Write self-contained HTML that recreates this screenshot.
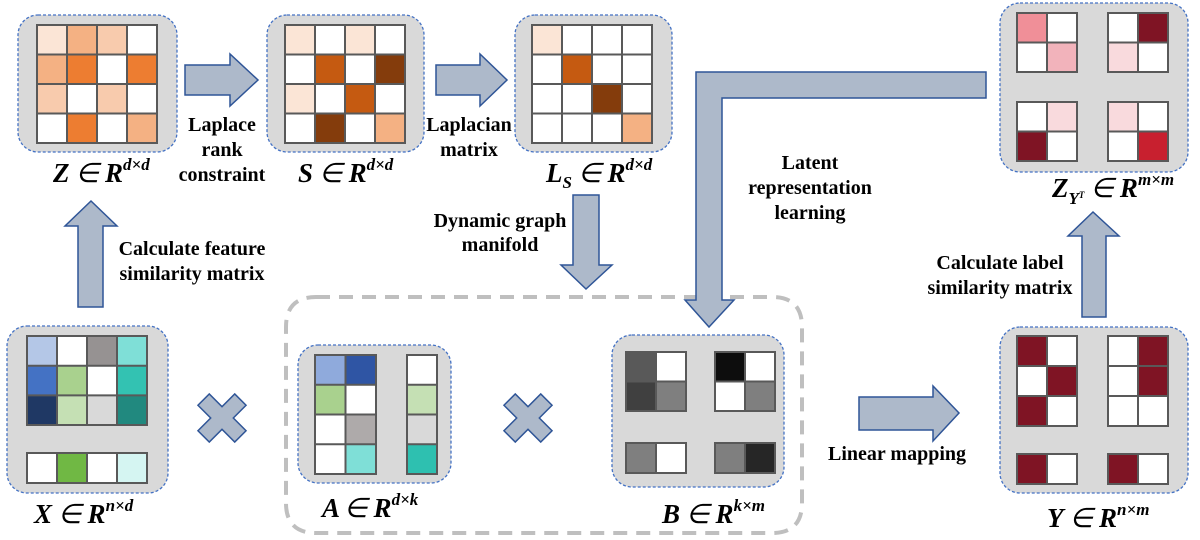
<!DOCTYPE html>
<html><head><meta charset="utf-8"><style>
html,body{margin:0;padding:0;background:#fff;}
svg{display:block;}
text{font-family:"Liberation Serif",serif;font-weight:bold;fill:#000;}
.m{font-style:italic;font-size:27px;}
.s{font-style:italic;font-size:17px;}
.t{font-size:20px;}
.box{fill:#d9d9d9;stroke:#4472c4;stroke-width:1.3;stroke-dasharray:3 2;}
.g{fill:none;stroke:#595959;stroke-width:2;}
.ar{fill:#adb9ca;stroke:#2f5597;stroke-width:1.5;stroke-linejoin:miter;}
</style></head><body>
<svg width="1200" height="540" viewBox="0 0 1200 540" xmlns="http://www.w3.org/2000/svg">
<defs>
<path id="g44" d="M0 0h120v118h-120z M30 0v118 M60 0v118 M90 0v118 M0 29.5h120 M0 59h120 M0 88.5h120"/>
<path id="g22" d="M0 0h60v59h-60z M30 0v59 M0 29.5h60"/>
<path id="g12" d="M0 0h60v30h-60z M30 0v30"/>
<path id="g23" d="M0 0h60v90h-60z M30 0v90 M0 30h60 M0 60h60"/>
</defs>

<!-- big dashed group -->
<path d="M316 297 H772 Q802 297 802 327 V503 Q802 533 772 533 H316 Q286 533 286 503 V327 Q286 297 316 297 Z" fill="none" stroke="#bfbfbf" stroke-width="4" stroke-dasharray="14 9"/>

<!-- Z box -->
<rect class="box" x="18" y="15" width="159" height="137" rx="20"/>
<g transform="translate(37,25)">
<rect width="120" height="118" fill="#fff"/>
<rect x="0" y="0" width="30" height="29.5" fill="#fbe5d6"/>
<rect x="30" y="0" width="30" height="29.5" fill="#f4b183"/>
<rect x="60" y="0" width="30" height="29.5" fill="#f8cbad"/>
<rect x="0" y="29.5" width="30" height="29.5" fill="#f4b183"/>
<rect x="30" y="29.5" width="30" height="29.5" fill="#ed7d31"/>
<rect x="90" y="29.5" width="30" height="29.5" fill="#ed7d31"/>
<rect x="0" y="59" width="30" height="29.5" fill="#f8cbad"/>
<rect x="60" y="59" width="30" height="29.5" fill="#f8cbad"/>
<rect x="30" y="88.5" width="30" height="29.5" fill="#ed7d31"/>
<rect x="90" y="88.5" width="30" height="29.5" fill="#f4b183"/>
<use href="#g44" class="g"/>
</g>
<text x="53" y="182"><tspan class="m">Z</tspan><tspan class="m" font-style="normal" font-weight="normal" dx="6">∈</tspan><tspan class="m" dx="6">R</tspan><tspan class="s" dy="-12">d×d</tspan></text>

<!-- S box -->
<rect class="box" x="267" y="15" width="157" height="137" rx="20"/>
<g transform="translate(285,25)">
<rect width="120" height="118" fill="#fff"/>
<rect x="0" y="0" width="30" height="29.5" fill="#fbe5d6"/>
<rect x="60" y="0" width="30" height="29.5" fill="#fbe5d6"/>
<rect x="30" y="29.5" width="30" height="29.5" fill="#c55a11"/>
<rect x="90" y="29.5" width="30" height="29.5" fill="#843c0c"/>
<rect x="0" y="59" width="30" height="29.5" fill="#fbe5d6"/>
<rect x="60" y="59" width="30" height="29.5" fill="#c55a11"/>
<rect x="30" y="88.5" width="30" height="29.5" fill="#843c0c"/>
<rect x="90" y="88.5" width="30" height="29.5" fill="#f4b183"/>
<use href="#g44" class="g"/>
</g>
<text x="298" y="182"><tspan class="m">S</tspan><tspan class="m" font-style="normal" font-weight="normal" dx="6">∈</tspan><tspan class="m" dx="6">R</tspan><tspan class="s" dy="-12">d×d</tspan></text>

<!-- L box -->
<rect class="box" x="515" y="15" width="157" height="137" rx="20"/>
<g transform="translate(532,25)">
<rect width="120" height="118" fill="#fff"/>
<rect x="0" y="0" width="30" height="29.5" fill="#fbe5d6"/>
<rect x="30" y="29.5" width="30" height="29.5" fill="#c55a11"/>
<rect x="60" y="59" width="30" height="29.5" fill="#843c0c"/>
<rect x="90" y="88.5" width="30" height="29.5" fill="#f4b183"/>
<use href="#g44" class="g"/>
</g>
<text x="546" y="182"><tspan class="m">L</tspan><tspan class="s" dy="6">S</tspan><tspan class="m" dy="-6" font-style="normal" font-weight="normal" dx="6">∈</tspan><tspan class="m" dx="6">R</tspan><tspan class="s" dy="-12">d×d</tspan></text>

<!-- top arrows -->
<polygon class="ar" points="185,65 230,65 230,54 258,80 230,106 230,95 185,95"/>
<polygon class="ar" points="436,65 480,65 480,54 507,80 480,106 480,95 436,95"/>
<text class="t" x="222" y="131" text-anchor="middle">Laplace</text>
<text class="t" x="222" y="156" text-anchor="middle">rank</text>
<text class="t" x="222" y="181" text-anchor="middle">constraint</text>
<text class="t" x="469" y="131" text-anchor="middle">Laplacian</text>
<text class="t" x="469" y="156" text-anchor="middle">matrix</text>

<!-- L-shaped arrow -->
<polygon class="ar" points="986,72 696,72 696,300 685,300 709,327 734,300 722,300 722,98 986,98"/>
<text class="t" x="810" y="169" text-anchor="middle">Latent</text>
<text class="t" x="810" y="194" text-anchor="middle">representation</text>
<text class="t" x="810" y="219" text-anchor="middle">learning</text>

<!-- Z_Y box -->
<rect class="box" x="1000" y="3" width="188" height="169" rx="20"/>
<g transform="translate(1017,13)">
<rect width="60" height="59" fill="#fff"/>
<rect x="0" y="0" width="30" height="29.5" fill="#f08f98"/>
<rect x="30" y="29.5" width="30" height="29.5" fill="#f2b3bb"/>
<use href="#g22" class="g"/>
</g>
<g transform="translate(1108,13)">
<rect width="60" height="59" fill="#fff"/>
<rect x="30" y="0" width="30" height="29.5" fill="#7f1424"/>
<rect x="0" y="29.5" width="30" height="29.5" fill="#f9dadd"/>
<use href="#g22" class="g"/>
</g>
<g transform="translate(1017,102)">
<rect width="60" height="59" fill="#fff"/>
<rect x="30" y="0" width="30" height="29.5" fill="#f9dadd"/>
<rect x="0" y="29.5" width="30" height="29.5" fill="#7f1424"/>
<use href="#g22" class="g"/>
</g>
<g transform="translate(1108,102)">
<rect width="60" height="59" fill="#fff"/>
<rect x="0" y="0" width="30" height="29.5" fill="#f9dadd"/>
<rect x="30" y="29.5" width="30" height="29.5" fill="#c8202f"/>
<use href="#g22" class="g"/>
</g>
<text x="1052" y="197"><tspan class="m">Z</tspan><tspan class="s" font-size="13" dy="7">Y</tspan><tspan font-size="9" font-style="italic" dy="-6">T</tspan><tspan class="m" dy="-1" font-style="normal" font-weight="normal" dx="6">∈</tspan><tspan class="m" dx="6">R</tspan><tspan class="s" dy="-12">m×m</tspan></text>

<!-- left up arrow -->
<polygon class="ar" points="78,307 78,226 65,226 91,201 117,226 103,226 103,307"/>
<text class="t" x="192" y="255" text-anchor="middle">Calculate feature</text>
<text class="t" x="192" y="280" text-anchor="middle">similarity matrix</text>

<!-- down arrow -->
<polygon class="ar" points="573,195 599,195 599,265 612,265 586,289 561,265 573,265"/>
<text class="t" x="500" y="227" text-anchor="middle">Dynamic graph</text>
<text class="t" x="500" y="251" text-anchor="middle">manifold</text>

<!-- right up arrow -->
<polygon class="ar" points="1082,317 1082,236 1068,236 1093,212 1119,236 1106,236 1106,317"/>
<text class="t" x="1000" y="269" text-anchor="middle">Calculate label</text>
<text class="t" x="1000" y="294" text-anchor="middle">similarity matrix</text>

<!-- X box -->
<rect class="box" x="7" y="326" width="161" height="167" rx="20"/>
<g transform="translate(27,336)">
<rect width="120" height="89" fill="#fff"/>
<rect x="0" y="0" width="30" height="29.7" fill="#b4c7e7"/>
<rect x="60" y="0" width="30" height="29.7" fill="#969292"/>
<rect x="90" y="0" width="30" height="29.7" fill="#7fdfd7"/>
<rect x="0" y="29.7" width="30" height="29.7" fill="#4472c4"/>
<rect x="30" y="29.7" width="30" height="29.7" fill="#a9d18e"/>
<rect x="90" y="29.7" width="30" height="29.7" fill="#33c2b2"/>
<rect x="0" y="59.4" width="30" height="29.6" fill="#1f3864"/>
<rect x="30" y="59.4" width="30" height="29.6" fill="#c5e0b4"/>
<rect x="60" y="59.4" width="30" height="29.6" fill="#d9d9d9"/>
<rect x="90" y="59.4" width="30" height="29.6" fill="#21897f"/>
<path class="g" d="M0 0h120v89h-120z M30 0v89 M60 0v89 M90 0v89 M0 29.7h120 M0 59.4h120"/>
</g>
<g transform="translate(27,453)">
<rect width="120" height="30" fill="#fff"/>
<rect x="30" y="0" width="30" height="30" fill="#70b844"/>
<rect x="90" y="0" width="30" height="30" fill="#d5f5f2"/>
<path class="g" d="M0 0h120v30h-120z M30 0v30 M60 0v30 M90 0v30"/>
</g>
<text x="34" y="523"><tspan class="m">X</tspan><tspan class="m" font-style="normal" font-weight="normal" dx="6">∈</tspan><tspan class="m" dx="6">R</tspan><tspan class="s" dy="-12">n×d</tspan></text>

<!-- multiply signs -->
<path class="ar" transform="translate(222,418) rotate(45)" d="M-8,-26 H8 V-8 H26 V8 H8 V26 H-8 V8 H-26 V-8 H-8 Z"/>
<path class="ar" transform="translate(528,418) rotate(45)" d="M-8,-26 H8 V-8 H26 V8 H8 V26 H-8 V8 H-26 V-8 H-8 Z"/>

<!-- A box -->
<rect class="box" x="298" y="345" width="153" height="138" rx="20"/>
<g transform="translate(315,355)">
<rect width="61" height="119" fill="#fff"/>
<rect x="0" y="0" width="30.5" height="29.75" fill="#8faadc"/>
<rect x="30.5" y="0" width="30.5" height="29.75" fill="#2f55a4"/>
<rect x="0" y="29.75" width="30.5" height="29.75" fill="#a9d18e"/>
<rect x="30.5" y="59.5" width="30.5" height="29.75" fill="#aeaaaa"/>
<rect x="30.5" y="89.25" width="30.5" height="29.75" fill="#7fdfd7"/>
<path class="g" d="M0 0h61v119h-61z M30.5 0v119 M0 29.75h61 M0 59.5h61 M0 89.25h61"/>
</g>
<g transform="translate(407,355)">
<rect width="30" height="119" fill="#fff"/>
<rect x="0" y="29.75" width="30" height="29.75" fill="#c5e0b4"/>
<rect x="0" y="59.5" width="30" height="29.75" fill="#d9d9d9"/>
<rect x="0" y="89.25" width="30" height="29.75" fill="#2ec0b0"/>
<path class="g" d="M0 0h30v119h-30z M0 29.75h30 M0 59.5h30 M0 89.25h30"/>
</g>
<text x="322" y="517"><tspan class="m">A</tspan><tspan class="m" font-style="normal" font-weight="normal" dx="4">∈</tspan><tspan class="m" dx="6">R</tspan><tspan class="s" dy="-12">d×k</tspan></text>

<!-- B box -->
<rect class="box" x="612" y="335" width="172" height="152" rx="20"/>
<g transform="translate(626,352)">
<rect width="60" height="59" fill="#fff"/>
<rect x="0" y="0" width="30" height="29.5" fill="#595959"/>
<rect x="0" y="29.5" width="30" height="29.5" fill="#404040"/>
<rect x="30" y="29.5" width="30" height="29.5" fill="#7f7f7f"/>
<use href="#g22" class="g"/>
</g>
<g transform="translate(715,352)">
<rect width="60" height="59" fill="#fff"/>
<rect x="0" y="0" width="30" height="29.5" fill="#0d0d0d"/>
<rect x="30" y="29.5" width="30" height="29.5" fill="#7f7f7f"/>
<use href="#g22" class="g"/>
</g>
<g transform="translate(626,443)">
<rect width="60" height="30" fill="#fff"/>
<rect x="0" y="0" width="30" height="30" fill="#7f7f7f"/>
<use href="#g12" class="g"/>
</g>
<g transform="translate(715,443)">
<rect width="60" height="30" fill="#7f7f7f"/>
<rect x="30" y="0" width="30" height="30" fill="#262626"/>
<use href="#g12" class="g"/>
</g>
<text x="662" y="523"><tspan class="m">B</tspan><tspan class="m" font-style="normal" font-weight="normal" dx="6">∈</tspan><tspan class="m" dx="6">R</tspan><tspan class="s" dy="-12">k×m</tspan></text>

<!-- linear mapping arrow -->
<polygon class="ar" points="859,397 933,397 933,386 959,413 933,441 933,430 859,430"/>
<text class="t" x="897" y="460" text-anchor="middle">Linear mapping</text>

<!-- Y box -->
<rect class="box" x="1000" y="327" width="188" height="166" rx="20"/>
<g transform="translate(1017,336)">
<rect width="60" height="90" fill="#fff"/>
<rect x="0" y="0" width="30" height="30" fill="#7f1424"/>
<rect x="30" y="30" width="30" height="30" fill="#7f1424"/>
<rect x="0" y="60" width="30" height="30" fill="#7f1424"/>
<use href="#g23" class="g"/>
</g>
<g transform="translate(1108,336)">
<rect width="60" height="90" fill="#fff"/>
<rect x="30" y="0" width="30" height="30" fill="#7f1424"/>
<rect x="30" y="30" width="30" height="30" fill="#7f1424"/>
<use href="#g23" class="g"/>
</g>
<g transform="translate(1017,454)">
<rect width="60" height="30" fill="#fff"/>
<rect x="0" y="0" width="30" height="30" fill="#7f1424"/>
<use href="#g12" class="g"/>
</g>
<g transform="translate(1108,454)">
<rect width="60" height="30" fill="#fff"/>
<rect x="0" y="0" width="30" height="30" fill="#7f1424"/>
<use href="#g12" class="g"/>
</g>
<text x="1047" y="527"><tspan class="m">Y</tspan><tspan class="m" font-style="normal" font-weight="normal" dx="6">∈</tspan><tspan class="m" dx="6">R</tspan><tspan class="s" dy="-12">n×m</tspan></text>
</svg>
</body></html>
